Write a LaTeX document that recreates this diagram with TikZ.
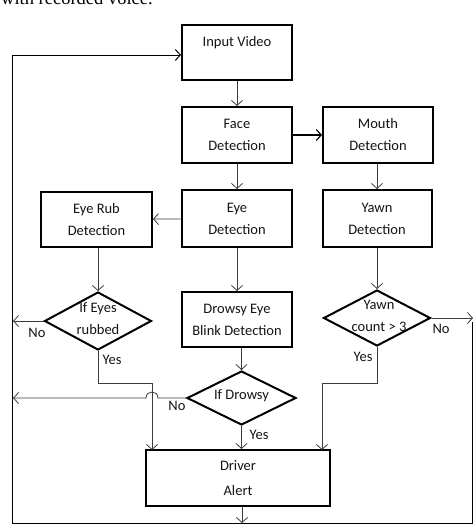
\documentclass[tikz,border=0pt]{standalone}
\usepackage{fontspec}
\setmainfont{Carlito}
\newfontfamily\capfont{Liberation Serif}
\usetikzlibrary{arrows.meta,shapes.geometric}
\definecolor{lineg}{HTML}{3C3C3C}
\definecolor{txt}{HTML}{141414}
\begin{document}
\begin{tikzpicture}[x=1pt,y=-1pt,
  box/.style={draw=black,line width=2pt,minimum width=#1,inner sep=0pt,align=center,
     font=\fontsize{14.5}{22}\selectfont,text=txt},
  dia/.style={draw=black,line width=2pt,diamond,inner sep=0pt},
  lbl/.style={font=\fontsize{14.5}{22}\selectfont,text=txt,inner sep=0pt},
  conn/.style={draw=lineg,line width=0.8pt},
  arr/.style={conn,-{Straight Barb[length=5pt,width=11pt]}}]
\useasboundingbox (0,0) rectangle (474,530);
% caption fragment
\node[anchor=base west,inner sep=0pt,font=\capfont\fontsize{18.5}{20}\selectfont] (cap) at (1,5) {with recorded voice.};
% boxes
\node[box=110pt,minimum height=55pt] (inp) at (237,52.5) {Input Video\\~};
\node[box=110pt,minimum height=56pt] (face) at (237,135) {Face\\Detection};
\node[box=110pt,minimum height=56pt] (mouth) at (378,135) {Mouth\\Detection};
\node[box=110pt,minimum height=57pt] (eye) at (237,218.5) {Eye\\Detection};
\node[box=111pt,minimum height=55pt] (rub) at (96.5,219.5) {Eye Rub\\Detection};
\node[box=109pt,minimum height=57pt] (yawn) at (377,218.5) {Yawn\\Detection};
\node[box=110pt,minimum height=55pt] (blink) at (237,319.5) {Drowsy Eye\\Blink Detection};
\node[box=184pt,minimum height=56pt] (alert) at (238,478) {Driver\\[3pt]Alert};
% diamonds
\node[dia,minimum width=107pt,minimum height=58pt] (ifeyes) at (98,321) {};
\node[lbl,align=center] (ifeyesT) at (98,318.5) {If Eyes\\rubbed};
\node[dia,minimum width=107pt,minimum height=56pt] (ifyawn) at (377,318) {};
\node[lbl,align=center] (ifyawnT) at (379,316) {Yawn\\count \textgreater{} 3};
\node[dia,minimum width=109pt,minimum height=54pt] (ifdrowsy) at (241.5,398) {};
\node[lbl] (ifdrowsyT) at (241.5,396) {If Drowsy};
% coordinates
\coordinate (lnoE) at (13,321);
\coordinate (rnoE) at (473,318);
\coordinate (rtop) at (472,322);
\coordinate (rbot) at (472,523);
\coordinate (lbot) at (12,523);
\coordinate (ltop) at (12,55);
\coordinate (dnoE) at (13,398);
\coordinate (botmid) at (242,523);
% connectors
\draw[arr] (inp) -- (face);
\draw[arr,draw=black,line width=1.1pt] (face) -- (mouth);
\draw[arr] (face) -- (eye);
\draw[arr] (mouth.south -| yawn) -- (yawn);
\draw[arr] (eye) -- (rub);
\draw[arr] (eye) -- (blink);
\draw[arr] (rub.south -| ifeyes) -- (ifeyes.north);
\draw[arr] (yawn) -- (ifyawn.north);
\draw[arr] (blink.south -| ifdrowsy) -- (ifdrowsy.north);
\draw[arr] (ifeyes.west) -- (lnoE);
\draw[arr] (ifyawn.east) -- (rnoE);
\draw[arr] (ifeyes.south) -- (98,383) -- (152,383) -- (152,450);
\draw[arr] (ifyawn.south) -- (377,383) -- (322,383) -- (322,450);
\draw[arr] (ifdrowsy.south) -- (ifdrowsy.south |- alert.north);
\draw[arr] (ifdrowsy.west) -- (158,398) .. controls (158,390) and (146,390) .. (146,398) -- (dnoE);
\draw[arr] (alert.south -| botmid) -- (botmid);
\draw[arr,draw=black,line width=1pt] (rtop) -- (rbot) -- (lbot) -- (ltop) -- (ltop -| inp.west);
% labels
\node[lbl] (noA) at (37,333) {No};
\node[lbl] (noB) at (441,329) {No};
\node[lbl] (noC) at (177,406) {No};
\node[lbl] (yesA) at (112,360) {Yes};
\node[lbl] (yesB) at (363,357) {Yes};
\node[lbl] (yesC) at (259,435) {Yes};
\end{tikzpicture}
\end{document}
